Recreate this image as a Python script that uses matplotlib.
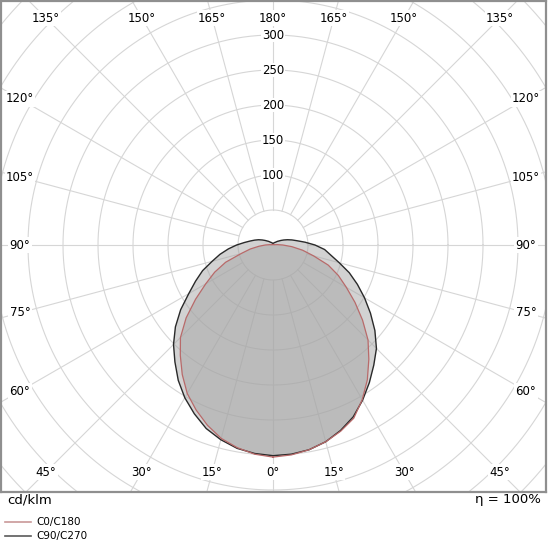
import numpy as np
import matplotlib
matplotlib.use("Agg")
import matplotlib.pyplot as plt

plt.rcParams['font.family'] = ['DejaVu Sans']

# ---- data (cd/klm) ----
gamma = [0, 5, 10, 15, 20, 25, 30, 35, 40, 45, 50, 55, 60, 65, 70, 75, 80, 85, 90,
         95, 100, 105, 110, 115, 120, 130, 140, 150, 160, 170, 180]
c0 = [303, 301, 297, 291, 283, 273, 255, 235, 213, 192, 167, 143, 121, 103, 84, 60, 43, 27, 14,
      6, 2, 1, 1, 1, 1, 1, 1, 1, 1, 1, 1]
c180 = [303, 300, 294, 286, 274, 260, 245, 226, 206, 187, 162, 135, 111, 92, 72, 47, 33, 20, 11,
        5, 2, 1, 1, 1, 1, 1, 1, 1, 1, 1, 1]
c90 = [301, 300, 297, 291, 282, 271, 256, 240, 224, 209, 190, 170, 151, 133, 116, 98, 84, 74, 60,
       46, 35, 28, 22, 17, 13, 8, 5, 4, 3, 2, 2]
c270 = [301, 299, 295, 288, 279, 266, 252, 236, 218, 201, 182, 161, 139, 122, 107, 90, 77, 64, 52,
        41, 33, 27, 22, 17, 13, 8, 5, 4, 3, 2, 2]
radial_ticks = [100, 150, 200, 250, 300]
angle_ticks = list(range(0, 181, 15))
series_names = ["C0/C180", "C90/C270"]
eta_text = "η = 100%"
unit_text = "cd/klm"

# ---- figure ----
fig = plt.figure(figsize=(5.5, 5.5), dpi=100)
sc = 0.7  # px per unit
ax = fig.add_axes([1/550, 1-492/550, 545/550, 491/550])
ax.set_xlim(-272/sc, 273/sc)
ax.set_ylim(-(492-245)/sc, 244/sc)
ax.set_xticks([]); ax.set_yticks([])
for s in ax.spines.values():
    s.set_color('#8f8f8f'); s.set_linewidth(1.6)

gridc = '#d6d6d6'
t = np.linspace(0, 2*np.pi, 720)
for r in range(50, 601, 50):
    ax.plot(r*np.cos(t), r*np.sin(t), color=gridc, lw=0.8, zorder=1)
for a in range(0, 360, 15):
    ar = np.radians(a)
    ax.plot([50*np.sin(ar), 700*np.sin(ar)], [-50*np.cos(ar), -700*np.cos(ar)],
            color=gridc, lw=0.8, zorder=1)

def curve(right, left):
    g = np.radians(np.array(gamma, float))
    r = np.array(right, float); l = np.array(left, float)[::-1]
    gr = g[::-1]
    xr, yr = r*np.sin(g), -r*np.cos(g)
    xl, yl = -l*np.sin(gr), -l*np.cos(gr)
    return np.concatenate([xr, xl]), np.concatenate([yr, yl])

x90, y90 = curve(c90, c270)
x0, y0 = curve(c0, c180)
ax.fill(x90, y90, color='#a6a6a6', alpha=0.5, lw=0, zorder=2)
ax.fill(x0, y0, color='#a6a6a6', alpha=0.5, lw=0, zorder=2)
ax.plot(np.append(x90, x90[0]), np.append(y90, y90[0]), color='#2a2a2a', lw=1.0, zorder=3)
ax.plot(np.append(x0, x0[0]), np.append(y0, y0[0]), color='#b86a6a', lw=0.9, zorder=3)

# radial labels
for r in radial_ticks:
    ax.text(0, r, str(r), ha='center', va='center', fontsize=8.5, zorder=5,
            bbox=dict(boxstyle='square,pad=0.05', fc='white', ec='none'))

# angle labels
hw, hh = 253/sc, 227/sc
for a in angle_ticks:
    ar = np.radians(a)
    sides = [1, -1] if 0 < a < 180 else [1]
    for sd in sides:
        dx, dy = sd*np.sin(ar), -np.cos(ar)
        tt = min(hw/abs(dx) if abs(dx) > 1e-9 else 1e9, hh/abs(dy) if abs(dy) > 1e-9 else 1e9)
        ax.text(dx*tt, dy*tt, f"{a}°", ha='center', va='center', fontsize=8.5, zorder=5,
                bbox=dict(boxstyle='square,pad=0.1', fc='white', ec='none'))

# bottom texts
fig.text(7/550, 1-500/550, unit_text, ha='left', va='center', fontsize=9.5)
fig.text(541/550, 1-500/550, eta_text, ha='right', va='center', fontsize=9.5)
leg_cols = ['#c99898', '#5a5a5a']
for i, (nm, c) in enumerate(zip(series_names, leg_cols)):
    yy = 1-(522+14*i)/550
    fig.add_artist(plt.Line2D([5/550, 31/550], [yy, yy], color=c, lw=1.2))
    fig.text(36/550, yy, nm, ha='left', va='center', fontsize=7.5)

fig.savefig('out.png', dpi=100)
